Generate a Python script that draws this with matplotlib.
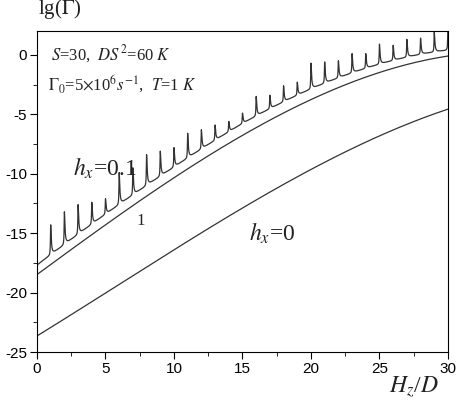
import matplotlib.pyplot as plt
import numpy as np

plt.rcParams['axes.unicode_minus'] = False
plt.rcParams['mathtext.fontset'] = 'stix'

# anchor points
x_anchor = [0, 5, 7.3, 10, 15, 20, 25, 30]
curve1 = [-18.3, -14.9, -12.2, -10.2, -6.6, -3.8, -1.7, 0.0]
x_low = [0, 5, 10, 15, 20, 25, 30]
curve0 = [-23.5, -20.4, -16.3, -12.5, -9.9, -6.9, -4.5]
offset01 = [0.8, 0.9, 0.9, 0.9, 1.0, 0.9, 0.7, 0.5]
peak_x = list(range(1, 31))
peak_y = [-14.3, -13.2, -12.6, -12.4, -12.1, -9.9, -9.5, -8.4, -8.1, -7.8,
          -6.6, -6.3, -5.9, -5.6, -4.9, -3.5, -3.4, -2.6, -2.3, -0.7,
          -0.6, -0.5, 0.1, 0.1, 0.9, 0.8, 1.3, 1.4, 1.9, 2.5]

x = np.linspace(0, 30, 6001)
# smooth the read anchors
y1 = np.polyval(np.polyfit(x_anchor, curve1, 3), x)
y0 = np.polyval(np.polyfit(x_low, curve0, 3), x)
base = y1 + np.interp(x, x_anchor, offset01)
y01 = base.copy()
for px, py in zip(peak_x, peak_y):
    h = py - np.interp(px, x, base)
    d = x - px
    w = np.where(d < 0, 0.02, 0.05)
    y01 = np.maximum(y01, base + h / (1 + (d / w) ** 2))

fig = plt.figure(figsize=(4.74, 4.08), dpi=100)
ax = fig.add_axes([0.078, 0.137, 0.867, 0.787])
ax.plot(x, y01, color='#333333', lw=0.9)
ax.plot(x, y1, color='#333333', lw=0.9)
ax.plot(x, y0, color='#333333', lw=0.9)
ax.set_xlim(0, 30)
ax.set_ylim(-25, 2)
ax.set_xticks(range(0, 31, 5))
ax.set_yticks(range(-25, 1, 5))
ax.set_xticks(np.arange(0, 30.1, 2.5), minor=True)
ax.set_yticks(np.arange(-25, 2, 2.5), minor=True)
ax.tick_params(which='both', direction='out', top=False, right=False,
               labelsize=11, length=5, pad=2)
ax.tick_params(which='minor', length=3)
for lab in ax.get_xticklabels() + ax.get_yticklabels():
    lab.set_family('Liberation Sans')

serif = dict(family='Liberation Serif', color='#222222')
ax.text(1.0, -0.4, r'$S$=30,  $DS^2$=60 $K$', fontsize=12, **serif)
ax.text(0.8, -3.0, r'$\Gamma_0$=5$\times$10$^6$$s^{-1}$,  $T$=1 $K$', fontsize=12, **serif)
ax.text(2.6, -10.2, r'$h_x$=0.1', fontsize=17, **serif)
ax.text(15.5, -15.6, r'$h_x$=0', fontsize=17, **serif)
ax.text(7.3, -14.3, '1', fontsize=12, **serif)
ax.text(25.7, -28.4, r'$H_z$/$D$', fontsize=17, **serif)
fig.text(0.08, 0.965, r'lg($\Gamma$)', fontsize=15, **serif)

fig.savefig('out.png', dpi=100)
